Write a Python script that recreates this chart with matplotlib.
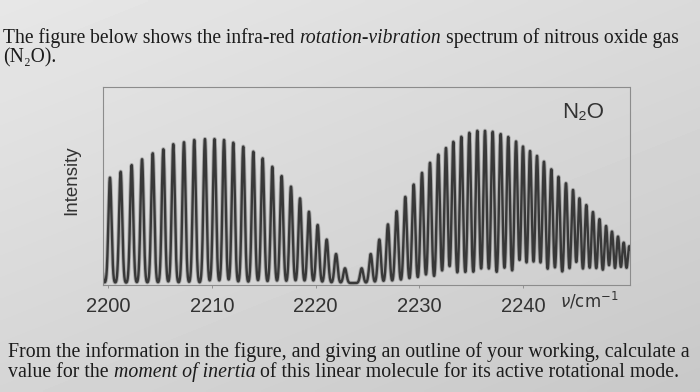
import numpy as np
import matplotlib
matplotlib.use("Agg")
import matplotlib.pyplot as plt

# ---- data (wavenumber in cm-1, relative intensity) ----
p_wavenumbers = [2199.18, 2200.19, 2201.22, 2202.28, 2203.28, 2204.31, 2205.33, 2206.29,
                 2207.32, 2208.31, 2209.34, 2210.26, 2211.18, 2212.07, 2213.03, 2214.00,
                 2214.90, 2215.83, 2216.73, 2217.63, 2218.50, 2219.36, 2220.20, 2221.07,
                 2221.97, 2222.83]
p_intensity = [65.5, 69.3, 73.2, 77.6, 81.4, 85.3, 88.0, 91.3,
               92.6, 94.1, 94.7, 94.7, 94.1, 92.3, 89.7, 86.4,
               82.0, 76.5, 70.4, 63.4, 55.7, 46.9, 38.2, 28.6,
               19.1, 9.7]
r_wavenumbers = [2224.44, 2225.31, 2226.14, 2226.97, 2227.81, 2228.64, 2229.45, 2230.25,
                 2231.02, 2231.82, 2232.56, 2233.27, 2234.04, 2234.81, 2235.58, 2236.32,
                 2237.06, 2237.83, 2238.56, 2239.31, 2239.98, 2240.66, 2241.33, 2242.00,
                 2242.71, 2243.40, 2244.12, 2244.80, 2245.42, 2246.08, 2246.72, 2247.35,
                 2247.98, 2248.55, 2249.13, 2249.68, 2250.22, 2250.72]
r_intensity = [9.7, 19.1, 28.6, 38.6, 47.2, 56.7, 64.8, 72.5,
               79.1, 84.5, 88.8, 92.9, 96.2, 98.8, 100.1, 100.1,
               99.5, 98.0, 96.1, 93.1, 89.8, 86.8, 83.6, 79.8,
               74.8, 69.9, 65.6, 61.2, 55.7, 51.3, 46.7, 42.0,
               37.5, 33.8, 30.5, 26.5, 24.1, 21.7]
x_ticks = [2200, 2210, 2220, 2230, 2240]
x_tick_labels = ["2200", "2210", "2220", "2230", "2240"]

W, H = 700, 392
fig = plt.figure(figsize=(W / 100, H / 100), dpi=100)

# paper-like background
bg = fig.add_axes([0, 0, 1, 1], zorder=-10)
gx, gy = np.meshgrid(np.linspace(0, 1, 200), np.linspace(0, 1, 120))
shade = 0.905 - 0.05 * gx - 0.07 * gy
bg.imshow(shade, cmap="gray", vmin=0, vmax=1, extent=[0, 1, 0, 1],
          aspect="auto", origin="upper", interpolation="bilinear")
bg.set_axis_off()

# spectrum axes
ax = fig.add_axes([103 / W, 1 - 285 / H, 527 / W, 198 / H])
ax.patch.set_alpha(0)

line_sigma = 0.15
nu = np.linspace(2199.0, 2251.0, 20000)
centres = np.array(p_wavenumbers + r_wavenumbers)
heights = np.array(p_intensity + r_intensity)
spec = (heights[:, None] * np.exp(-0.5 * ((nu[None, :] - centres[:, None]) / line_sigma) ** 2)).sum(0)
ax.plot(nu, spec, color="#8a8a8a", lw=3.0, solid_joinstyle="round", alpha=0.6)
ax.plot(nu, spec, color="#383838", lw=1.7, solid_joinstyle="round")

ax.set_xlim(2199.52, 2250.29)
ax.set_ylim(-1.3, 128.9)
ax.set_yticks([])
ax.set_xticks(x_ticks)
ax.set_xticklabels(x_tick_labels, family=["Liberation Sans", "DejaVu Sans"],
                   fontsize=14.5, color="#333333")
ax.tick_params(axis="x", length=2, width=0.6, color="#888888", pad=7)
for s in ax.spines.values():
    s.set_color("#8c8c8c")
    s.set_linewidth(0.8)
ax.spines["top"].set_linestyle((0, (1.5, 1)))

fig.text(560 / W, 1 - 301 / H, r"$\nu$/cm$^{-1}$", fontsize=12, color="#333333",
         ha="left", va="center")
fig.text(72 / W, 1 - 180 / H, "Intensity", rotation=90, fontsize=13.5,
         family=["Liberation Sans", "DejaVu Sans"], color="#333333",
         ha="center", va="center")
fig.text(583 / W, 1 - 112 / H, "N₂O", fontsize=16,
         family=["Liberation Sans", "DejaVu Sans"], color="#333333",
         ha="center", va="center")

# ---- surrounding page text ----
renderer = fig.canvas.get_renderer()
serif = ["Liberation Serif", "DejaVu Serif"]


def width_of(txt, size, style):
    t = fig.text(0, 0, txt, fontsize=size, family=serif, style=style)
    w = t.get_window_extent(renderer).width
    t.remove()
    return w


def rich_line(x_px, base_px, parts, size, color="#1c1c1c"):
    space = width_of("x x", size, "normal") - width_of("xx", size, "normal")
    x = x_px
    for txt, style in parts:
        lead = len(txt) - len(txt.lstrip(" "))
        x += lead * space
        core = txt.strip(" ")
        t = fig.text(x / W, 1 - base_px / H, core, fontsize=size, family=serif,
                     style=style, color=color, ha="left", va="baseline")
        x += t.get_window_extent(renderer).width
        trail = len(txt) - len(txt.rstrip(" "))
        x += trail * space


rich_line(3, 43, [("The figure below shows the infra-red ", "normal"),
                  ("rotation-vibration", "italic"),
                  (" spectrum of nitrous oxide gas", "normal")], 14.1)
rich_line(3, 62, [("(N₂O).", "normal")], 14.1)
rich_line(8, 357, [("From the information in the figure, and giving an outline of your working, calculate a", "normal")], 14.3)
rich_line(8, 377, [("value for the ", "normal"), ("moment of inertia", "italic"),
                   (" of this linear molecule for its active rotational mode.", "normal")], 14.3)

fig.savefig("out.png", dpi=100)
